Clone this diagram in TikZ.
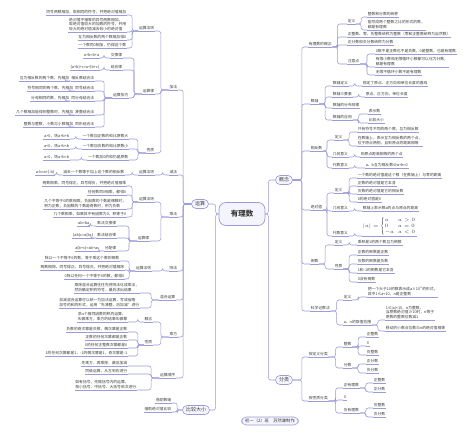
\documentclass[tikz,border=0pt]{standalone}
\usepackage{amsmath}
\usepackage{fontspec}
\setmainfont{Noto Sans CJK SC}
\definecolor{lc}{RGB}{155,155,215}
\definecolor{pf}{RGB}{244,244,252}
\definecolor{tc}{RGB}{60,60,60}
\tikzset{
 t/.style={font=\fontsize{3.8}{4.7}\selectfont, text=tc, inner xsep=0.6pt, inner ysep=0.9pt, align=left,
   append after command={(\tikzlastnode.south west) edge[ul] (\tikzlastnode.south east)}},
 R/.style={t, anchor=south west},
 L/.style={t, anchor=south east},
 ul/.style={draw=lc, line width=0.45pt},
 cn/.style={draw=lc, line width=0.55pt, rounded corners=2.5pt},
 pill/.style={draw=lc, fill=pf, line width=0.6pt, rounded corners=4.5pt, minimum height=9pt, inner xsep=3.5pt, inner ysep=1pt, font=\fontsize{5}{6}\selectfont, text=tc},
 rootbox/.style={draw=lc, fill=pf, line width=0.7pt, rounded corners=7pt, minimum width=46pt, minimum height=23pt, font=\fontsize{7.5}{9}\selectfont\bfseries, text=tc},
}
\newcommand\conR[3][6]{\draw[cn] (#2.south east) -- ++(#1pt,0) |- (#3.south west);}
\newcommand\conL[3][6]{\draw[cn] (#2.south west) -- ++(-#1pt,0) |- (#3.south east);}
\newcommand\conPR[3][9]{\draw[cn] (#2.east) -- ++(#1pt,0) |- (#3.south west);}
\newcommand\conPL[3][8]{\draw[cn] (#2.west) -- ++(-#1pt,0) |- (#3.south east);}
\begin{document}
\begin{tikzpicture}[x=1pt,y=-1pt]
\useasboundingbox (0,0) rectangle (474,436);
\fill[white] (0,0) rectangle (474,436);
% root
\node[rootbox] (root) at (242,214) {有理数};
\node[pill] (gn) at (284,180) {概念};
\node[pill] (fl) at (284,380) {分类};
\node[pill] (ys) at (200,204) {运算};
\node[pill] (bj) at (196,410) {比较大小};
\draw[cn] (root.east) -- ++(3pt,0) |- (gn.west);
\draw[cn] (root.east) -- ++(3pt,0) |- (fl.west);
\draw[cn] (root.west) -- ++(-3pt,0) |- (ys.east);
\draw[cn] (root.west) -- ++(-3pt,0) |- (bj.east);
\node[pill, font=\fontsize{4.3}{5}\selectfont, minimum height=8pt] (sig) at (270,421) {初一（2）班\quad 苏然谦制作};
% ---------- 概念 ----------
\node[R] (a) at (308,47) {有理数的概念};
\node[R] (a1) at (347,24) {定义};
\node[R] (a11) at (367,17) {整数和分数的统称};
\node[R] (a12) at (367,30) {能写成两个整数之比的形式的数，\\都是有理数};
\node[R] (a2) at (347,37) {正整数、零、负整数统称为整数（零和正整数统称为自然数）};
\node[R] (a3) at (347,45) {正分数和负分数统称为分数};
\node[R] (a4) at (347,64) {注意点};
\node[R] (a41) at (375,54) {0既不是正数也不是负数，0是整数，也是有理数};
\node[R] (a42) at (375,67) {有限小数和无限循环小数都可以化为分数，\\都是有理数};
\node[R] (a43) at (375,75) {无限不循环小数不是有理数};
\conPR{gn}{a}
\conR[5]{a}{a1}\conR[5]{a}{a2}\conR[5]{a}{a3}\conR[5]{a}{a4}
\conR[5]{a1}{a11}\conR[5]{a1}{a12}
\conR[7]{a4}{a41}\conR[7]{a4}{a42}\conR[7]{a4}{a43}
\node[R] (b) at (310,104) {数轴};
\node[R] (b1) at (332,86) {数轴定义};
\node[R] (b11) at (362,86) {规定了原点、正方向和单位长度的直线};
\node[R] (b2) at (332,97) {数轴三要素};
\node[R] (b21) at (365,97) {原点、正方向、单位长度};
\node[R] (b3) at (332,108) {数轴的分布规律};
\node[R] (b4) at (332,120) {数轴的应用};
\node[R] (b41) at (368,114) {表示数};
\node[R] (b42) at (368,123) {比较大小};
\conPR{gn}{b}
\conR{b}{b1}\conR{b}{b2}\conR{b}{b3}\conR{b}{b4}
\conR{b1}{b11}\conR{b2}{b21}\conR{b4}{b41}\conR{b4}{b42}
\node[R] (c) at (310,151) {相反数};
\node[R] (c1) at (334,140) {定义};
\node[R] (c11) at (357,132) {只有符号不同的两个数，互为相反数};
\node[R] (c12) at (357,146) {在数轴上，表示互为相反数的两个点，\\位于原点两侧，且到原点的距离相等};
\node[R] (c2) at (332,157) {几何意义};
\node[R] (c21) at (360,157) {到原点距离相等的两个点};
\node[R] (c3) at (332,168) {代数意义};
\node[R] (c31) at (365,168) {a、b互为相反数⇔a+b=0};
\conPR{gn}{c}
\conR[4]{c}{c1}\conR[4]{c}{c2}\conR[4]{c}{c3}
\conR{c1}{c11}\conR{c1}{c12}\conR{c2}{c21}\conR{c3}{c31}
\node[R] (d) at (310,210) {绝对值};
\node[R] (d1) at (334,193) {定义};
\node[R] (d11) at (357,178) {一个数的绝对值是这个数（在数轴上）与零的距离};
\node[R] (d12) at (357,186) {正数的绝对值是它本身};
\node[R] (d13) at (357,194) {负数的绝对值是它的相反数};
\node[R] (d14) at (357,202) {0的绝对值是0};
\node[R] (d2) at (332,211) {几何意义};
\node[R] (d21) at (362,211) {数轴上表示数a的点与原点的距离};
\node[R] (d3) at (332,236) {代数意义};
\node[R, font=\fontsize{4.2}{5}\selectfont, inner ysep=0.3pt] (d31) at (362,236) {$|a|=\begin{cases}a & a>0\\0 & a=0\\-a & a<0\end{cases}$};
\conPR{gn}{d}
\conR[4]{d}{d1}\conR[4]{d}{d2}\conR[4]{d}{d3}
\conR{d1}{d11}\conR{d1}{d12}\conR{d1}{d13}\conR{d1}{d14}
\conR{d2}{d21}\conR{d3}{d31}
\node[R] (e) at (310,264) {倒数};
\node[R] (e1) at (334,245) {定义};
\node[R] (e11) at (357,245) {乘积是1的两个数互为倒数};
\node[R] (e2) at (334,269) {性质};
\node[R] (e21) at (357,255) {正数的倒数是正数};
\node[R] (e22) at (357,264) {负数的倒数是负数};
\node[R] (e23) at (357,273) {1和-1的倒数是它本身};
\node[R] (e24) at (357,282) {0没有倒数};
\conPR{gn}{e}
\conR{e}{e1}\conR{e}{e2}
\conR{e1}{e11}\conR{e2}{e21}\conR{e2}{e22}\conR{e2}{e23}\conR{e2}{e24}
\node[R] (f) at (310,311) {科学记数法};
\node[R] (f1) at (343,300) {定义};
\node[R] (f11) at (367,297) {把一个大于10的数表示成a×10\textsuperscript{n}的形式，\\其中1≤a<10，n是正整数};
\node[R] (f2) at (343,325) {a、n的取值范围};
\node[R] (f21) at (385,320) {1≤|a|<10，n为整数，\\当原数绝对值≥10时，n等于\\原数的整数位数减1};
\node[R] (f22) at (385,331) {移动的小数点位数与n的绝对值相等};
\conPR{gn}{f}
\conR{f}{f1}\conR{f}{f2}
\conR{f1}{f11}\conR{f2}{f21}\conR{f2}{f22}
% ---------- 分类 ----------
\node[R] (g1) at (308,357) {按定义分类};
\node[R] (g11) at (343,347) {整数};
\node[R] (g111) at (366,337) {正整数};
\node[R] (g112) at (366,346) {0};
\node[R] (g113) at (366,355) {负整数};
\node[R] (g12) at (343,368) {分数};
\node[R] (g121) at (366,364) {正分数};
\node[R] (g122) at (366,373) {负分数};
\node[R] (g2) at (308,401) {按性质分类};
\node[R] (g21) at (343,388) {正有理数};
\node[R] (g211) at (373,383) {正整数};
\node[R] (g212) at (373,392) {正分数};
\node[R] (g22) at (343,400) {0};
\node[R] (g23) at (343,413) {负有理数};
\node[R] (g231) at (373,408) {负整数};
\node[R] (g232) at (373,417) {负分数};
\conPR{fl}{g1}\conPR{fl}{g2}
\conR[7]{g1}{g11}\conR[7]{g1}{g12}
\conR{g11}{g111}\conR{g11}{g112}\conR{g11}{g113}
\conR{g12}{g121}\conR{g12}{g122}
\conR[7]{g2}{g21}\conR[7]{g2}{g22}\conR[7]{g2}{g23}
\conR{g21}{g211}\conR{g21}{g212}
\conR{g23}{g231}\conR{g23}{g232}
% ---------- 运算 ----------
\node[L] (h) at (178,90) {加法};
\node[L] (h1) at (155,31) {运算法则};
\node[L] (h11) at (127,15) {同号两数相加，取相同的符号，并把绝对值相加};
\node[L] (h12) at (127,32) {绝对值不相等的异号两数相加，\\取绝对值较大的加数的符号，并用\\较大的绝对值减去较小的绝对值};
\node[L] (h13) at (127,40) {互为相反数的两个数相加得0};
\node[L] (h14) at (127,48) {一个数同0相加，仍得这个数};
\node[L] (h2) at (155,94) {运算律};
\node[L] (h21) at (123,58) {交换律};
\node[L] (h211) at (100,58) {a+b=b+a};
\node[L] (h22) at (123,70) {结合律};
\node[L] (h221) at (100,70) {(a+b)+c=a+(b+c)};
\node[L] (h23) at (129,98) {运算技巧};
\node[L] (h231) at (95,81) {相反数结合法};
\node[L] (h2311) at (70,81) {互为相反数的两个数，先相加};
\node[L] (h232) at (95,91) {同号结合法};
\node[L] (h2321) at (74,91) {符号相同的两个数，先相加};
\node[L] (h233) at (95,101) {同分母结合法};
\node[L] (h2331) at (70,101) {分母相同的数，先相加};
\node[L] (h234) at (95,115) {凑整结合法};
\node[L] (h2341) at (74,115) {几个数相加能得到整数时，先相加};
\node[L] (h235) at (95,127) {同形结合法};
\node[L] (h2351) at (74,127) {整数与整数、小数与小数相加};
\node[L] (h3) at (155,153) {性质};
\node[L] (h31) at (129,139) {一个数加正数的和比原数大};
\node[L] (h311) at (70,139) {a>0，则a+b>b};
\node[L] (h32) at (129,149) {一个数加负数的和比原数小};
\node[L] (h321) at (70,149) {a<0，则a+b<b};
\node[L] (h33) at (129,160) {一个数加0的和仍是原数};
\node[L] (h331) at (70,160) {a=0，则a+b=b};
\conPL{ys}{h}
\conL[8]{h}{h1}\conL[8]{h}{h2}\conL[8]{h}{h3}
\conL{h1}{h11}\conL{h1}{h12}\conL{h1}{h13}\conL{h1}{h14}
\conL[8]{h2}{h21}\conL[8]{h2}{h22}\conL[8]{h2}{h23}
\conL{h21}{h211}\conL{h22}{h221}
\conL[8]{h23}{h231}\conL[8]{h23}{h232}\conL[8]{h23}{h233}\conL[8]{h23}{h234}\conL[8]{h23}{h235}
\conL{h231}{h2311}\conL{h232}{h2321}\conL{h233}{h2331}\conL{h234}{h2341}\conL{h235}{h2351}
\conL[8]{h3}{h31}\conL[8]{h3}{h32}\conL[8]{h3}{h33}
\conL{h31}{h311}\conL{h32}{h321}\conL{h33}{h331}
\node[L] (i) at (178,175) {减法};
\node[L] (i1) at (155,175) {运算法则};
\node[L] (i11) at (125,175) {减去一个数等于加上这个数的相反数};
\node[L] (i111) at (55,175) {a-b=a+(-b)};
\conPL{ys}{i}\conL{i}{i1}\conL{i1}{i11}\conL{i11}{i111}
\node[L] (j) at (178,217) {乘法};
\node[L] (j1) at (155,202) {运算法则};
\node[L] (j11) at (127,186) {两数相乘，同号得正，异号得负，并把绝对值相乘};
\node[L] (j12) at (127,195) {任何数同0相乘，都得0};
\node[L] (j13) at (127,209) {几个不等于0的数相乘，负因数的个数是偶数时，\\积为正数；负因数的个数是奇数时，积为负数};
\node[L] (j14) at (127,217) {几个数相乘，如果其中有因数为0，积等于0};
\node[L] (j2) at (150,241) {运算律};
\node[L] (j21) at (117,226) {乘法交换律};
\node[L] (j211) at (90,226) {ab=ba};
\node[L] (j22) at (117,238) {乘法结合律};
\node[L] (j221) at (94,238) {(ab)c=a(bc)};
\node[L] (j23) at (117,251) {分配律};
\node[L] (j231) at (100,251) {a(b+c)=ab+ac};
\conPL{ys}{j}
\conL[8]{j}{j1}\conL[8]{j}{j2}
\conL{j1}{j11}\conL{j1}{j12}\conL{j1}{j13}\conL{j1}{j14}
\conL[8]{j2}{j21}\conL[8]{j2}{j22}\conL[8]{j2}{j23}
\conL{j21}{j211}\conL{j22}{j221}\conL{j23}{j231}
\node[L] (k) at (178,271) {除法};
\node[L] (k1) at (152,271) {运算法则};
\node[L] (k11) at (120,261) {除以一个不等于0的数，等于乘这个数的倒数};
\node[L] (k12) at (125,270) {两数相除，同号得正，异号得负，并把绝对值相除};
\node[L] (k13) at (125,279) {0除以任何一个不等于0的数，都得0};
\conPL{ys}{k}\conL{k}{k1}
\conL{k1}{k11}\conL{k1}{k12}\conL{k1}{k13}
\node[L] (l) at (176,300) {混合运算};
\node[L] (l1) at (140,293) {乘除混合运算往往先将除法化成乘法，\\然后确定积的符号，最后求出结果};
\node[L] (l2) at (140,308) {加减混合运算可以统一为加法运算，写成省略\\加号的和的形式，运用“先凑整，后加减”进行};
\conPL{ys}{l}\conL[8]{l}{l1}\conL[8]{l}{l2}
\node[L] (m) at (178,337) {乘方};
\node[L] (m1) at (153,322) {概念};
\node[L] (m11) at (128,322) {求n个相同因数的积的运算，\\叫做乘方，乘方的结果叫做幂};
\node[L] (m2) at (153,345) {性质};
\node[L] (m21) at (128,332) {负数的奇次幂是负数，偶次幂是正数};
\node[L] (m22) at (128,340) {正数的任何次幂都是正数};
\node[L] (m23) at (128,348) {0的任何正整数次幂都是0};
\node[L] (m24) at (128,356) {1的任何次幂都是1，-1的偶次幂是1，奇次幂是-1};
\conPL{ys}{m}\conL[8]{m}{m1}\conL[8]{m}{m2}
\conL{m1}{m11}
\conL{m2}{m21}\conL{m2}{m22}\conL{m2}{m23}\conL{m2}{m24}
\node[L] (n) at (176,378) {运算顺序};
\node[L] (n1) at (128,366) {先乘方，再乘除，最后加减};
\node[L] (n2) at (128,374) {同级运算，从左到右进行};
\node[L] (n3) at (137,390) {如有括号，先做括号内的运算，\\按小括号、中括号、大括号依次进行};
\conPL{ys}{n}\conL[8]{n}{n1}\conL[8]{n}{n2}\conL[8]{n}{n3}
% ---------- 比较大小 ----------
\node[L] (o1) at (172,403) {借助数轴};
\node[L] (o2) at (172,412) {借助绝对值比较};
\conPL[5]{bj}{o1}\conPL[5]{bj}{o2}
\end{tikzpicture}
\end{document}
